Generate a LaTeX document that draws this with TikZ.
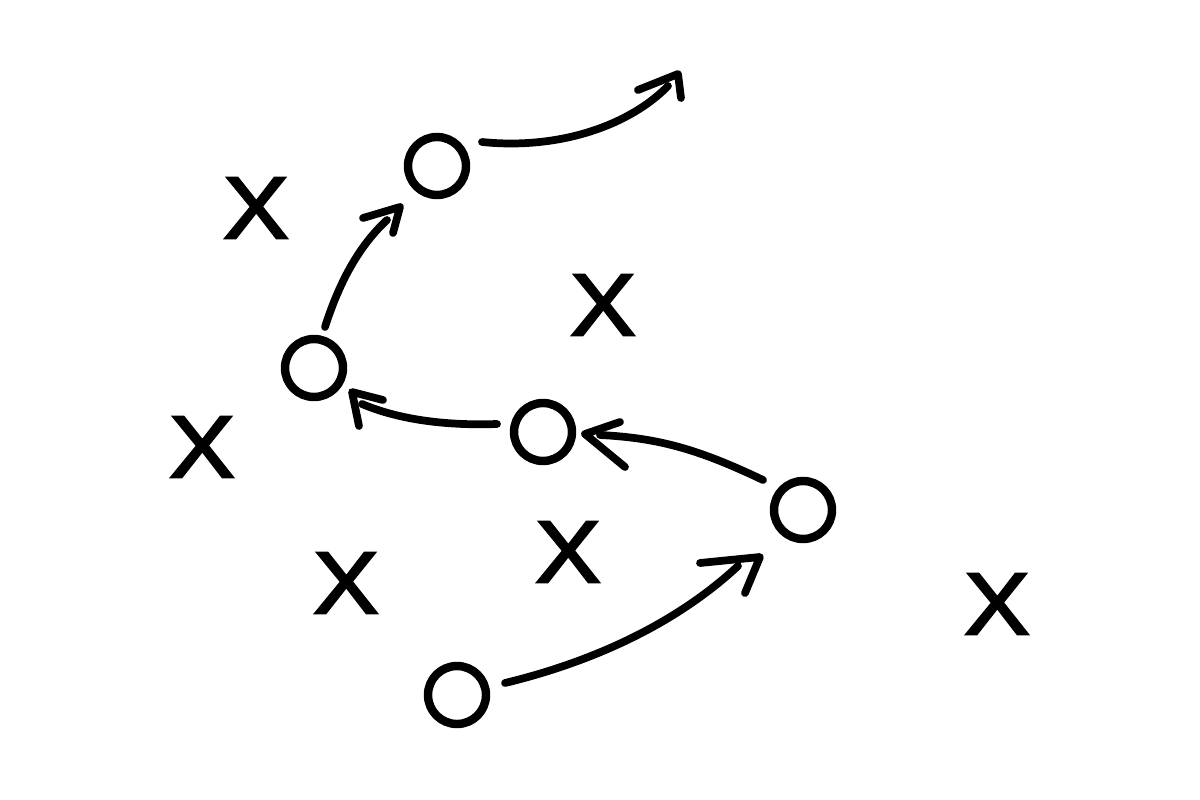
\documentclass[tikz,border=0pt]{standalone}
\usepackage{fontspec}
\setmainfont{Liberation Sans}
\begin{document}
\begin{tikzpicture}[x=0.02cm,y=-0.02cm,
  player/.style={circle,draw=black,line width=4.8pt,minimum size=1.16cm,inner sep=0pt},
  opp/.style={inner sep=0pt,font=\fontsize{50}{50}\selectfont},
  move/.style={draw=black,line width=4.4pt,line cap=round,line join=round},
  head/.style={draw=black,line width=4.4pt,line cap=round,line join=round}]
\useasboundingbox[fill=white] (0,0) rectangle (1200,800);
% players
\node[player] (o1) at (437,166) {};
\node[player] (o2) at (314,368) {};
\node[player] (o3) at (543,432) {};
\node[player] (o4) at (803,510) {};
\node[player] (o5) at (457,695) {};
% opponents
\newcommand{\oppx}{\scalebox{1.12}[1]{\addfontfeatures{FakeBold=2.5}X}}
\node[opp] (x1) at (256,208) {\oppx};
\node[opp] (x2) at (603,305) {\oppx};
\node[opp] (x3) at (202,447) {\oppx};
\node[opp] (x4) at (346,583) {\oppx};
\node[opp] (x5) at (568,552) {\oppx};
\node[opp] (x6) at (997,604) {\oppx};
% arrow endpoints
\coordinate (a1s) at (482,142); \coordinate (a1t) at (678,74);
\coordinate (a2s) at (325,327); \coordinate (a2t) at (400,207);
\coordinate (a3s) at (497,424); \coordinate (a3t) at (352,392);
\coordinate (a4s) at (763,480); \coordinate (a4t) at (585,434);
\coordinate (a5s) at (505,683); \coordinate (a5t) at (760,557);
% shafts
\draw[move] (a1s) .. controls (560,150) and (630,125) .. (668,86);
\draw[move] (a2s) .. controls (340,280) and (360,245) .. (387,220);
\draw[move] (a3s) .. controls (440,426) and (395,418) .. (362,404);
\draw[move] (a4s) .. controls (700,450) and (660,438) .. (600,435);
\draw[move] (a5s) .. controls (600,660) and (680,620) .. (738,566);
% heads
\draw[head] (638,90) -- (a1t) -- (681,98);
\draw[head] (363,218) -- (a2t) -- (393,233);
\draw[head] (383,400) -- (a3t) -- (359,426);
\draw[head] (620,422) -- (a4t) -- (625,467);
\draw[head] (700,563) -- (a5t) -- (745,593);
\end{tikzpicture}
\end{document}
